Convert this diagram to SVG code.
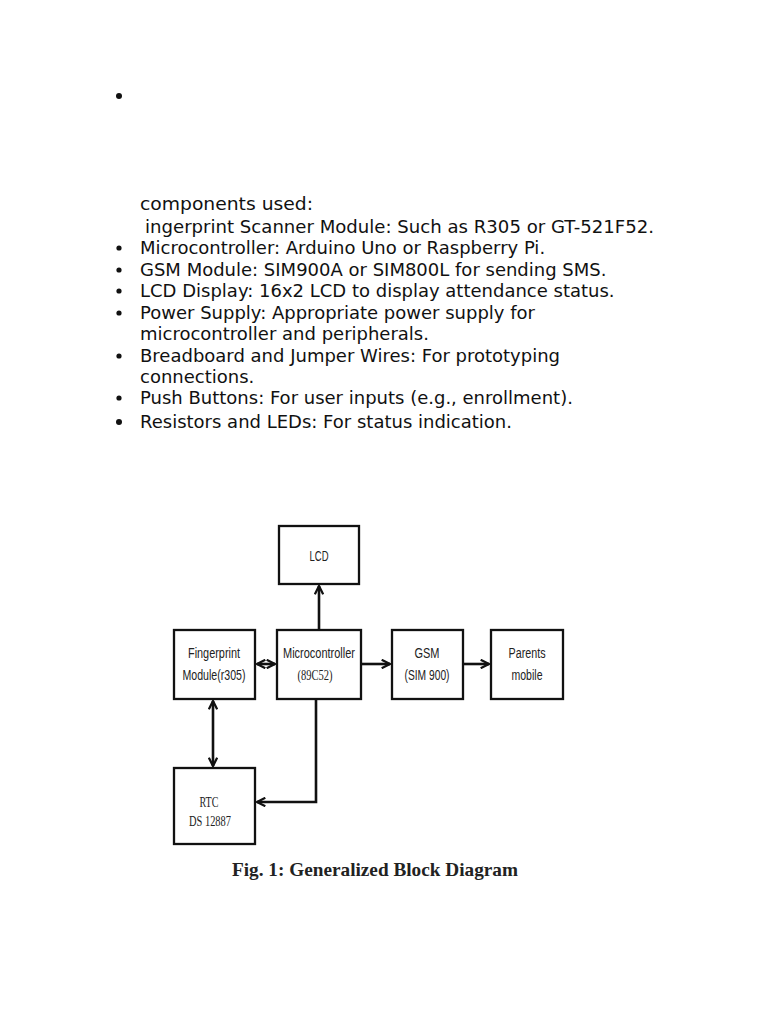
<svg xmlns="http://www.w3.org/2000/svg" width="768" height="1024" viewBox="0 0 768 1024">
<style>
.t{font-family:"DejaVu Sans",sans-serif;font-size:18px;fill:#111}
.box{fill:#fff;stroke:#111;stroke-width:2.3}
.lb{font-family:"Liberation Sans",sans-serif;font-size:14px;fill:#222;text-anchor:middle}
.sf{font-family:"Liberation Serif",serif;font-size:14px;fill:#222;text-anchor:middle}
.ln{fill:none;stroke:#111;stroke-width:2.6}
</style>
<defs>
<marker id="ah" viewBox="0 0 10 10" refX="9" refY="5" markerWidth="4" markerHeight="4" orient="auto-start-reverse">
<path d="M1,1 L9,5 L1,9" fill="none" stroke="#111" stroke-width="2.2"/>
</marker>
</defs>
<rect width="768" height="1024" fill="#fff"/>
<g id="text">
<circle cx="119" cy="96" r="3" fill="#111"/>
<text x="140" y="210" style="font-family:'DejaVu Sans',sans-serif;font-size:18.5px;fill:#111" textLength="173" lengthAdjust="spacingAndGlyphs">components used:</text>
<text class="t" x="145" y="233" textLength="509" lengthAdjust="spacingAndGlyphs">ingerprint Scanner Module: Such as R305 or GT-521F52.</text>
<g fill="#111">
<circle cx="119" cy="248" r="2.6"/><circle cx="119" cy="270" r="2.6"/><circle cx="119" cy="291" r="2.6"/><circle cx="119" cy="313" r="2.6"/><circle cx="119" cy="356" r="2.6"/><circle cx="119" cy="398" r="2.6"/><circle cx="119" cy="422" r="3"/>
</g>
<text class="t" x="140" y="254">Microcontroller: Arduino Uno or Raspberry Pi.</text>
<text class="t" x="140" y="276">GSM Module: SIM900A or SIM800L for sending SMS.</text>
<text class="t" x="140" y="297">LCD Display: 16x2 LCD to display attendance status.</text>
<text class="t" x="140" y="319">Power Supply: Appropriate power supply for</text>
<text class="t" x="140" y="340">microcontroller and peripherals.</text>
<text class="t" x="140" y="362">Breadboard and Jumper Wires: For prototyping</text>
<text class="t" x="140" y="383">connections.</text>
<text class="t" x="140" y="404">Push Buttons: For user inputs (e.g., enrollment).</text>
<text class="t" x="140" y="428">Resistors and LEDs: For status indication.</text>
</g>
<g id="lcd"><rect class="box" x="279" y="526" width="80" height="58"/><text class="lb" x="319" y="561" textLength="19" lengthAdjust="spacingAndGlyphs">LCD</text></g>
<g id="fingerprint"><rect class="box" x="174" y="630" width="81" height="69"/><text class="lb" x="214" y="658" textLength="52" lengthAdjust="spacingAndGlyphs">Fingerprint</text><text class="lb" x="214" y="680" textLength="63" lengthAdjust="spacingAndGlyphs">Module(r305)</text></g>
<g id="micro"><rect class="box" x="277" y="630" width="84" height="69"/><text class="lb" x="319" y="658" textLength="72" lengthAdjust="spacingAndGlyphs">Microcontroller</text><text class="sf" x="315" y="680" textLength="35" lengthAdjust="spacingAndGlyphs">(89C52)</text></g>
<g id="gsm"><rect class="box" x="392" y="630" width="71" height="69"/><text class="lb" x="427" y="658" textLength="25" lengthAdjust="spacingAndGlyphs">GSM</text><text class="lb" x="427" y="680" textLength="45" lengthAdjust="spacingAndGlyphs">(SIM 900)</text></g>
<g id="parents"><rect class="box" x="491" y="630" width="72" height="69"/><text class="lb" x="527" y="658" textLength="37" lengthAdjust="spacingAndGlyphs">Parents</text><text class="lb" x="527" y="680" textLength="31" lengthAdjust="spacingAndGlyphs">mobile</text></g>
<g id="rtc"><rect class="box" x="174" y="768" width="81" height="76"/><text class="sf" x="209" y="807" textLength="19" lengthAdjust="spacingAndGlyphs">RTC</text><text class="sf" x="210" y="826" textLength="42" lengthAdjust="spacingAndGlyphs">DS 12887</text></g>
<g id="connectors">
<line class="ln" x1="257" y1="664" x2="275" y2="664" marker-start="url(#ah)" marker-end="url(#ah)"/>
<line class="ln" x1="361" y1="664" x2="390" y2="664" marker-end="url(#ah)"/>
<line class="ln" x1="463" y1="664" x2="489" y2="664" marker-end="url(#ah)"/>
<line class="ln" x1="319" y1="630" x2="319" y2="586" marker-end="url(#ah)"/>
<line class="ln" x1="213" y1="701" x2="213" y2="766" marker-start="url(#ah)" marker-end="url(#ah)"/>
<polyline class="ln" points="316,699 316,802 257,802" marker-end="url(#ah)"/>
</g>
<text x="375" y="876" text-anchor="middle" textLength="286" lengthAdjust="spacingAndGlyphs" style="font-family:'Liberation Serif',serif;font-weight:bold;font-size:19px;fill:#222">Fig. 1: Generalized Block Diagram</text>
</svg>
